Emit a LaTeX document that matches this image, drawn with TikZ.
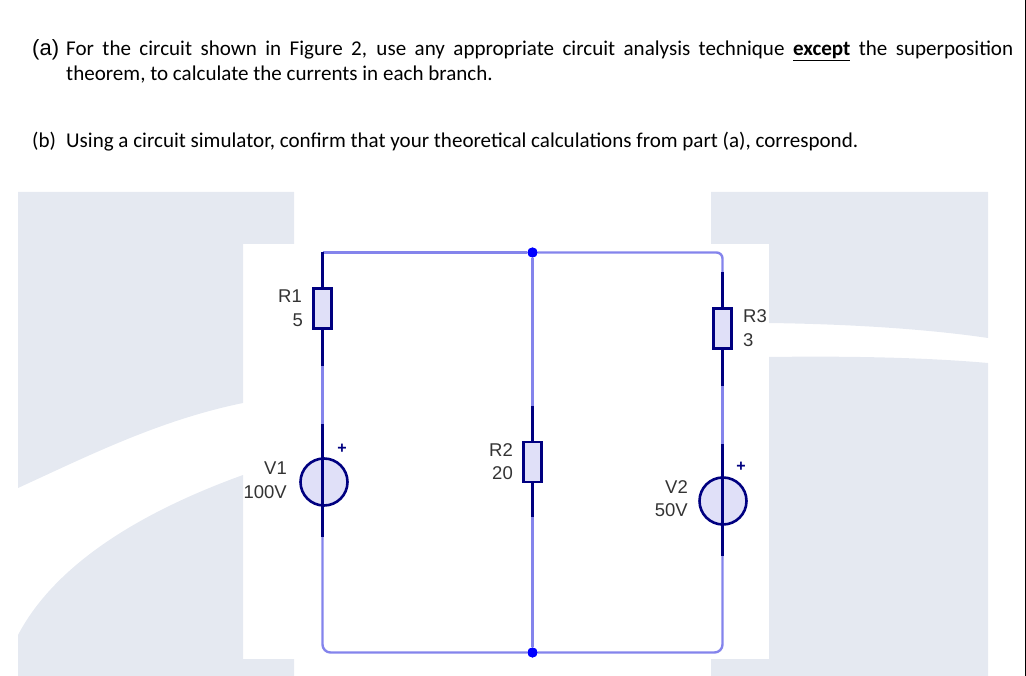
\documentclass[tikz,border=0pt]{standalone}
\usepackage{fontspec}
\setmainfont{Carlito}
\newfontfamily\labelfont{Liberation Sans}
\definecolor{markcol}{HTML}{E5E9F1}
\definecolor{wirecol}{HTML}{8484EC}
\definecolor{partcol}{HTML}{000080}
\definecolor{fillcol}{HTML}{E0E0F8}
\definecolor{labelcol}{HTML}{333333}
\tikzset{
  resbox/.style={draw=partcol,fill=fillcol,line width=2.6pt,rectangle,inner sep=0pt,minimum width=18pt,minimum height=40pt},
  srcbox/.style={draw=partcol,fill=fillcol,line width=2.6pt,circle,inner sep=0pt,minimum size=47pt},
  joint/.style={fill=blue,circle,inner sep=0pt,minimum size=10pt},
  partlabel/.style={inner sep=0pt,text=labelcol,font=\labelfont\fontsize{18.5}{18.5}\selectfont},
  wordlabel/.style={inner sep=0pt,anchor=base west,font=\fontsize{21.05}{25}\selectfont}
}
\newcommand{\resistor}[3]{\node[resbox] (#1) at (#2,#3) {};}
\newcommand{\source}[3]{\node[srcbox] (#1) at (#2,#3) {};}
\newcommand{\stub}[2]{\draw[partcol,line width=2.6pt] (#1) -- (#2);}
\newcommand{\wire}[2]{\draw[wirecol,line width=2.4pt] (#1) -- (#2);}
\begin{document}
\begin{tikzpicture}[x=1pt,y=-1pt]
    \useasboundingbox (0,0) rectangle (1026,676);
    % watermark
    \fill[markcol] (18,192) -- (294,192) -- (294,244) -- (243,244) -- (243,403) .. controls (160,420) and (90,455) .. (18,488) -- cycle;
    \fill[markcol] (18,635) .. controls (60,555) and (160,505) .. (243,475) -- (243,659) -- (294,659) -- (294,676) -- (18,676) -- cycle;
    \fill[markcol] (711,192) -- (988,192) -- (988,338) .. controls (920,328) and (840,324) .. (769,323) -- (769,244) -- (711,244) -- cycle;
    \fill[markcol] (769,357) .. controls (840,356) and (920,357) .. (988,363) -- (988,676) -- (711,676) -- (711,659) -- (769,659) -- cycle;
    \draw[black,line width=2pt] (1025.5,0) -- (1025.5,676);
    % text
    \node[inner sep=0pt,anchor=base west,font=\labelfont\fontsize{22}{25}\selectfont] (parta) at (32,56) {(a)};
    \node[wordlabel,text width=947pt,align=justify,anchor=north west] (texta) at (66,41) {For the circuit shown in Figure 2, use any appropriate circuit analysis technique \underline{\textbf{except}} the superposition\linebreak theorem, to calculate the currents in each branch.};
    \node[wordlabel] (partb) at (32,148) {(b)};
    \node[wordlabel] (textb) at (66,148) {Using a circuit simulator, confirm that your theoretical calculations from part (a), correspond.};
    % left branch
    \coordinate (TL) at (322.5,252.5); \coordinate (R1b) at (322.5,366);
    \coordinate (V1t) at (322.5,424); \coordinate (V1b) at (322.5,537);
    % middle branch
    \coordinate (R2t) at (532.5,406); \coordinate (R2b) at (532.5,517);
    % right branch
    \coordinate (R3t) at (722.5,272); \coordinate (R3b) at (722.5,386);
    \coordinate (V2t) at (722.5,444); \coordinate (V2b) at (722.5,556);
    \node[joint] (JT) at (532.5,252.5) {};
    \node[joint] (JB) at (532.5,652.5) {};
    \wire{TL}{JT}\wire{JT}{R2t}\wire{R2b}{JB}
    \wire{R1b}{V1t}\wire{R3b}{V2t}
    \draw[wirecol,line width=2.4pt,rounded corners=6pt] (JT) -| (R3t);
    \draw[wirecol,line width=2.4pt,rounded corners=8pt] (V1b) |- (JB);
    \draw[wirecol,line width=2.4pt,rounded corners=8pt] (V2b) |- (JB);
    \node[joint] at (JT) {};
    \node[joint] at (JB) {};
    \resistor{R1}{322.5}{308.5}
    \resistor{R2}{532.5}{462}
    \resistor{R3}{722.5}{328.5}
    \source{V1}{324}{482}
    \source{V2}{723}{501}
    \stub{TL}{R1.north}\stub{R1.south}{R1b}
    \stub{R2t}{R2.north}\stub{R2.south}{R2b}
    \stub{R3t}{R3.north}\stub{R3.south}{R3b}
    \stub{V1t}{V1b}\stub{V2t}{V2b}
    % polarity marks
    \node[inner sep=0pt,text=partcol,font=\labelfont\bfseries\fontsize{16}{16}\selectfont] (V1p) at (342,449) {+};
    \node[inner sep=0pt,text=partcol,font=\labelfont\bfseries\fontsize{16}{16}\selectfont] (V2p) at (741,467) {+};
    % labels
    \node[partlabel,anchor=east] (R1n) at (302,296) {R1};
    \node[partlabel,anchor=east] (R1v) at (303,320) {5};
    \node[partlabel,anchor=east] (V1n) at (287,468) {V1};
    \node[partlabel,anchor=east] (V1v) at (287,492) {100V};
    \node[partlabel,anchor=east] (R2n) at (513,450) {R2};
    \node[partlabel,anchor=east] (R2v) at (513,473) {20};
    \node[partlabel,anchor=east] (V2n) at (688,487) {V2};
    \node[partlabel,anchor=east] (V2v) at (688,510) {50V};
    \node[partlabel,anchor=west] (R3n) at (743,316) {R3};
    \node[partlabel,anchor=west] (R3v) at (743,340) {3};
\end{tikzpicture}
\end{document}
